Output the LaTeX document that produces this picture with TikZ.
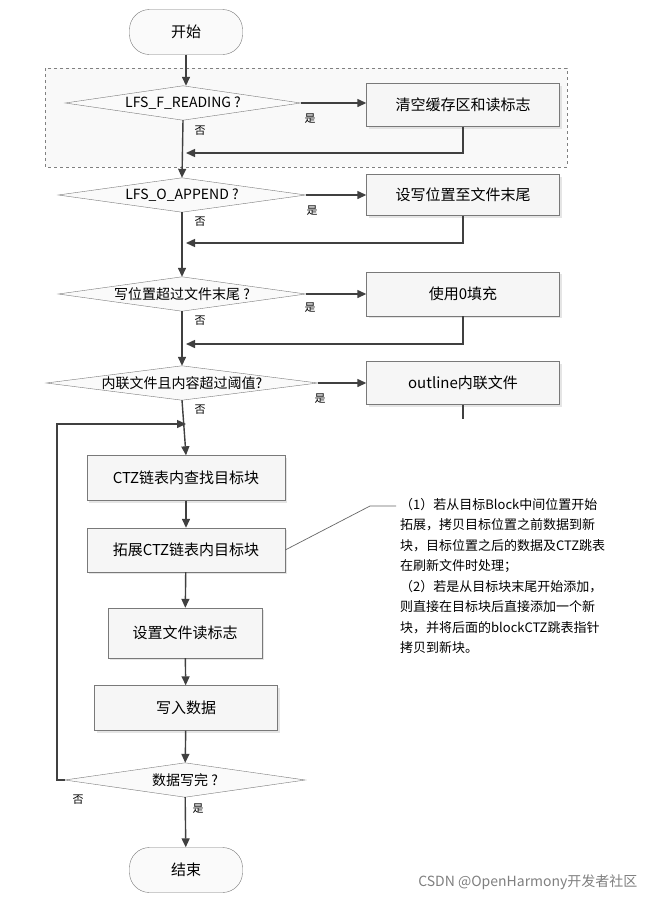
\documentclass[tikz,border=0pt]{standalone}
\usepackage{fontspec}
\setmainfont{Liberation Serif}
\newfontfamily\cjk{Noto Sans CJK SC}
\usetikzlibrary{arrows.meta,shadows,backgrounds}
\definecolor{ln}{HTML}{404040}
\tikzset{
 box/.style={draw=ln!70,fill=gray!7,drop shadow={shadow xshift=2pt,shadow yshift=-2pt,fill=gray!40},inner sep=0,font=\cjk\fontsize{15}{15}\selectfont},
 dia/.style={rectangle,inner sep=0,font=\cjk\fontsize{14}{14}\selectfont},
 diashape/.style={draw=ln!70,fill=gray!4},
 term/.style={draw=ln!70,fill=gray!4,rounded corners=20pt,minimum width=113pt,minimum height=45pt,font=\cjk\fontsize{15}{15}\selectfont},
 arr/.style={draw=ln,line width=1.4pt,-{Triangle[length=9pt,width=8pt]}},
 lbl/.style={font=\cjk\fontsize{11}{11}\selectfont}
}
\begin{document}
\begin{tikzpicture}[x=1pt,y=-1pt]
\useasboundingbox (0,0) rectangle (656,903);
\node[term] (s) at (186,32) {开始};
\node[dia,minimum width=235pt,minimum height=34pt] (d1) at (183,103) {LFS\_F\_READING ?};
\node[dia,minimum width=247pt,minimum height=34pt] (d2) at (182,195) {LFS\_O\_APPEND ?};
\node[dia,minimum width=247pt,minimum height=34pt] (d3) at (182,294) {写位置超过文件末尾 ?};
\node[dia,minimum width=271pt,minimum height=34pt] (d4) at (182,383) {内联文件且内容超过阈值?};
\node[dia,minimum width=240pt,minimum height=34pt] (d5) at (185,780) {数据写完 ?};
\begin{scope}[on background layer]
\fill[white] (0,0) rectangle (656,903);
\draw[dashed,draw=gray,fill=gray!5] (45,68) rectangle (567,167);
\foreach \d in {d1,d2,d3,d4,d5}
  \draw[diashape] (\d.west) -- (\d.north) -- (\d.east) -- (\d.south) -- cycle;
\end{scope}
\node[box,minimum width=193pt,minimum height=43pt] (b1) at (463,105) {清空缓存区和读标志};
\node[box,minimum width=193pt,minimum height=41pt] (b2) at (463,195) {设写位置至文件末尾};
\node[box,minimum width=193pt,minimum height=44pt] (b3) at (463,294) {使用0填充};
\node[box,minimum width=193pt,minimum height=43pt] (b4) at (463,383) {outline内联文件};
\node[box,minimum width=198pt,minimum height=45pt] (b5) at (186,478) {CTZ链表内查找目标块};
\node[box,minimum width=198pt,minimum height=44pt] (b6) at (186,550) {拓展CTZ链表内目标块};
\node[box,minimum width=154pt,minimum height=50pt] (b7) at (185,633) {设置文件读标志};
\node[box,minimum width=183pt,minimum height=45pt] (b8) at (186,708) {写入数据};
\node[term] (e) at (186,870) {结束};
\coordinate (r1) at (186,153);
\coordinate (r2) at (186,243);
\coordinate (r3) at (186,344);
\coordinate (r4) at (186,424);
\coordinate (lp) at (57,780);
\path[arr] (s) -- (d1.north -| s);
\path[arr] (d1.east) -- (b1.west |- d1.east);
\path[arr] (d2.east) -- (b2);
\path[arr] (d3.east) -- (b3);
\path[arr] (d4.east) -- (b4);
\path[arr] (b1.south) |- (r1);
\path[arr] (b2.south) |- (r2);
\path[arr] (b3.south) |- (r3);
\draw[draw=ln,line width=1.4pt] (b4.south) -- ++(0,14);
\path[arr] (d1.south) -- (d2.north);
\path[arr] (d2.south) -- (d3.north);
\path[arr] (d3.south) -- (d4.north);
\path[arr] (d4.south) -- (b5.north);
\path[arr] (b5) -- (b6);
\path[arr] (b6) -- (b7);
\path[arr] (b7) -- (b8);
\path[arr] (b8) -- (d5);
\path[arr] (d5) -- (e);
\path[arr] (d5.west) -- (lp) |- (r4);
\node[lbl] at (310,119) {是};
\node[lbl] at (312,211) {是};
\node[lbl] at (310,308) {是};
\node[lbl] at (320,399) {是};
\node[lbl] at (200,131) {否};
\node[lbl] at (200,222) {否};
\node[lbl] at (200,321) {否};
\node[lbl] at (200,410) {否};
\node[lbl] at (78,800) {否};
\node[lbl] at (198,809) {是};
\coordinate (n1) at (370,506);
\draw[ln!80,line width=0.7pt] (b6.east) -- (n1) -- ++(26,0);
\node[anchor=north west,align=left,inner sep=0,font=\cjk\fontsize{13}{20.5}\selectfont] (note) at (400,498) {（1）若从目标Block中间位置开始\\拓展，拷贝目标位置之前数据到新\\块，目标位置之后的数据及CTZ跳表\\在刷新文件时处理；\\（2）若是从目标块末尾开始添加，\\则直接在目标块后直接添加一个新\\块，并将后面的blockCTZ跳表指针\\拷贝到新块。};
\node[anchor=east,text=gray,font=\cjk\fontsize{14}{14}\selectfont] (wm) at (641,882) {CSDN @OpenHarmony开发者社区};
\end{tikzpicture}
\end{document}
